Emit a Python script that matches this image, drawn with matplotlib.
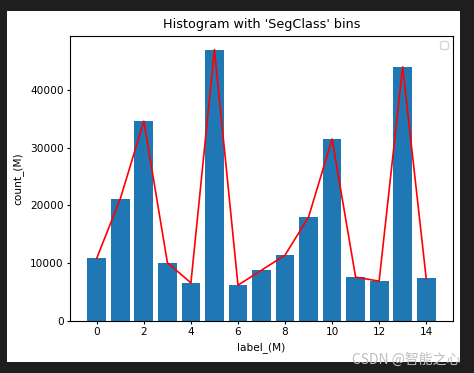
import matplotlib
matplotlib.use('Agg')
import matplotlib.pyplot as plt
from matplotlib.patches import Rectangle

# valeurs
labels = list(range(15))
counts = [10900, 21200, 34600, 10100, 6600, 47000, 6200, 8800,
          11400, 18000, 31500, 7600, 6900, 44000, 7400]

fig = plt.figure(figsize=(4.74, 3.73), dpi=100, facecolor="#1e1e1e")
# fond blanc de la capture
fig.patches.append(Rectangle((7 / 474, 1 - 362 / 373), 453 / 474, 351 / 373,
                             transform=fig.transFigure, facecolor="white",
                             edgecolor="none", zorder=-10))

ax = fig.add_axes([70 / 474, 1 - 321 / 373, 383 / 474, 285 / 373])
ax.bar(labels, counts, color="#1f77b4")
ax.plot(labels, counts, color="red", linewidth=1.2)

ax.set_title("Histogram with 'SegClass' bins", fontsize=9.2)
ax.set_xlabel("label_(M)", fontsize=7.6, labelpad=3.5)
ax.set_ylabel("count_(M)", fontsize=7.6, labelpad=4.5)
ax.tick_params(labelsize=7.6, length=2.5, pad=2)
ax.set_xticks(range(0, 15, 2))
ax.legend(handles=[], labels=[], loc="upper right", fontsize=7)

fig.text(460 / 474, 1 - 360 / 373, "CSDN @智能之心", ha="right", va="center",
         fontsize=10, color="#bfbfbf",
         family=["Noto Sans CJK SC", "DejaVu Sans"])

fig.savefig("out.png", dpi=100, facecolor=fig.get_facecolor())
plt.close(fig)
